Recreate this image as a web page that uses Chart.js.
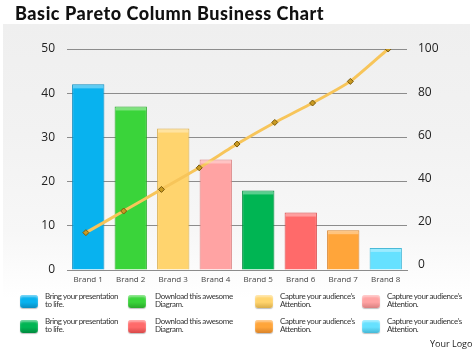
<!DOCTYPE html>
<html>
<head>
<meta charset="utf-8">
<script src="https://cdn.jsdelivr.net/npm/chart.js@4"></script>
<style>
  html,body{margin:0;padding:0;background:#fff;}
  #wrap{position:relative;width:474px;height:355px;overflow:hidden;font-family:"Open Sans",sans-serif;}
  #panel{position:absolute;left:3px;top:24px;width:467px;height:275px;
    background:linear-gradient(#efefef 0%,#f2f2f2 40%,#f7f7f7 75%,#ffffff 100%);}
  #c{position:absolute;left:0;top:0;}
  #title{position:absolute;left:15px;top:2px;font-family:Lato,sans-serif;font-weight:900;font-size:18px;color:#111;letter-spacing:0.55px;white-space:nowrap;}
  .icon{position:absolute;width:18px;height:13px;border-radius:3px;}
  .ltext{position:absolute;font-family:Lato,sans-serif;font-size:8px;line-height:8px;letter-spacing:-0.4px;color:#333;white-space:pre;}
  #logo{position:absolute;left:430px;top:337px;font-family:"Open Sans",sans-serif;font-size:9px;color:#222;}
</style>
</head>
<body>
<div id="wrap">
  <div id="panel"></div>
  <canvas id="c" width="474" height="355"></canvas>
  <div id="title">Basic Pareto Column Business Chart</div>
  <div id="legend"></div>
  <div id="logo">Your Logo</div>
</div>
<script>
const categories = ["Brand 1","Brand 2","Brand 3","Brand 4","Brand 5","Brand 6","Brand 7","Brand 8"];
const barValues = [42, 37, 32, 25, 18, 13, 9, 5];
const linePoints = ["p1","p2","p3","p4","p5","p6","p7","p8","p9"];
const lineValues = [15, 25, 35, 45, 56, 66, 75, 85, 100];
const leftTicks = [0, 10, 20, 30, 40, 50];
const rightTicks = [0, 20, 40, 60, 80, 100];
const barColors = ["#08b2ef","#3ad43a","#ffd46e","#ffa3a3","#00b553","#ff6a6a","#ffa53a","#66e1ff"];
const barEdges  = ["#0a8cc0","#2aa82a","#d9ad4a","#d98080","#008a3e","#d84848","#d9832a","#45b8d6"];
const legendTexts = [
  "Bring your presentation\nto life.",
  "Download this awesome\nDiagram.",
  "Capture your audience\u2019s\nAttention.",
  "Capture your audience\u2019s\nAttention.",
  "Bring your presentation\nto life.",
  "Download this awesome\nDiagram.",
  "Capture your audience\u2019s\nAttention.",
  "Capture your audience\u2019s\nAttention."
];

// HTML legend (layout only)
const iconX = [20, 128, 255, 362];
const textX = [45, 155, 280, 387];
const rowY = [295, 320];
const leg = document.getElementById('legend');
legendTexts.forEach((t, i) => {
  const r = Math.floor(i / 4), c = i % 4;
  const ic = document.createElement('div');
  ic.className = 'icon';
  ic.style.left = iconX[c] + 'px';
  ic.style.top = rowY[r] + 'px';
  ic.style.background = `linear-gradient(${barColors[i]} 0%, ${barColors[i]} 55%, ${barEdges[i]} 100%)`;
  ic.style.boxShadow = `inset 0 2px 2px rgba(255,255,255,0.45), 0 1px 1px rgba(0,0,0,0.25)`;
  leg.appendChild(ic);
  const tx = document.createElement('div');
  tx.className = 'ltext';
  tx.style.left = textX[c] + 'px';
  tx.style.top = (rowY[r] - 3) + 'px';
  tx.textContent = t;
  leg.appendChild(tx);
});

const barShine = {
  id: 'barShine',
  afterDatasetsDraw(chart) {
    const meta = chart.getDatasetMeta(0);
    const ctx = chart.ctx;
    ctx.save();
    meta.data.forEach((el) => {
      const w = el.width;
      ctx.fillStyle = 'rgba(255,255,255,0.35)';
      ctx.fillRect(el.x - w / 2 + 1, el.y + 1, w - 2, 3);
    });
    ctx.restore();
  }
};

new Chart(document.getElementById('c'), {
  data: {
    labels: categories,
    datasets: [
      {
        type: 'bar',
        data: barValues,
        backgroundColor: barColors,
        borderColor: barEdges,
        borderWidth: 1,
        grouped: false,
        barPercentage: 0.76,
        categoryPercentage: 1.0,
        xAxisID: 'x',
        yAxisID: 'y',
        order: 2
      },
      {
        type: 'line',
        data: lineValues,
        xAxisID: 'x2',
        yAxisID: 'y1',
        borderColor: '#f7c55a',
        borderWidth: 3,
        tension: 0.15,
        pointStyle: 'rectRot',
        pointRadius: 3,
        pointBackgroundColor: '#c99a22',
        pointBorderColor: '#7a5a0c',
        pointBorderWidth: 1,
        order: 1
      }
    ]
  },
  options: {
    responsive: false,
    animation: false,
    layout: { padding: { top: 49, left: 0, right: 0, bottom: 0 } },
    plugins: { legend: { display: false }, tooltip: { enabled: false }, title: { display: false } },
    scales: {
      x: {
        type: 'category',
        offset: true,
        grid: { display: false, drawTicks: false },
        border: { display: true, color: '#8c8c8c', width: 1 },
        ticks: { font: { family: 'Open Sans', size: 8 }, color: '#444', padding: 5, maxRotation: 0 },
        afterFit(s) { s.height = 85; }
      },
      x2: {
        type: 'category',
        labels: linePoints,
        offset: true,
        display: false
      },
      y: {
        position: 'left',
        min: 0, max: 50,
        afterBuildTicks(s) { s.ticks = leftTicks.map(v => ({ value: v })); },
        grid: { color: '#8c8c8c', drawTicks: false, lineWidth: 1 },
        border: { display: false },
        ticks: { font: { family: 'Open Sans', size: 12 }, color: '#222', padding: 12 },
        afterFit(s) { s.width = 67; }
      },
      y1: {
        position: 'right',
        min: -2.3, max: 100,
        afterBuildTicks(s) { s.ticks = rightTicks.map(v => ({ value: v })); },
        grid: { display: false, drawTicks: false },
        border: { display: false },
        ticks: { font: { family: 'Open Sans', size: 12 }, color: '#222', padding: 11 },
        afterFit(s) { s.width = 67; }
      }
    }
  },
  plugins: [barShine]
});
</script>
</body>
</html>
